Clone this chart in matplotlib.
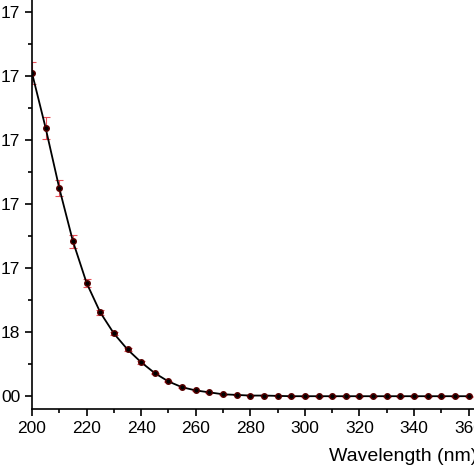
import matplotlib
matplotlib.use("Agg")
import matplotlib.pyplot as plt
import numpy as np

plt.rcParams['font.family'] = ['Liberation Sans', 'DejaVu Sans']

wavelength = list(range(200, 365, 5))
values = [5.05, 4.19, 3.25, 2.42, 1.77, 1.31, 0.98, 0.73, 0.53, 0.36, 0.23, 0.14, 0.09, 0.06, 0.03, 0.02,
          0.01, 0.01, 0.005, 0.0, 0.0, 0.0, 0.0, 0.0, 0.0, 0.0, 0.0, 0.0, 0.0, 0.0, 0.0, 0.0, 0.0]
errors = [0.17, 0.17, 0.13, 0.1, 0.06, 0.04, 0.03, 0.02, 0.02, 0.01, 0.01, 0.01, 0.01] + [0.005] * 20
ytick_labels = ["00", "18", "17", "17", "17", "17", "17"]

fig = plt.figure(figsize=(4.74, 4.74), dpi=100)
ax = fig.add_axes([32/474, 1-409/474, 1-32/474+0.01, 409/474])
ax.errorbar(wavelength, values, yerr=errors, fmt='none', ecolor='#e8505a', elinewidth=0.8, capsize=3, capthick=0.8)
ax.plot(wavelength, values, color='black', lw=1.3, marker='o', ms=4, mfc='black', mec='#5a0000')
ax.set_xlim(200, 363.7)
ax.set_ylim(-0.2, 6.19)
ax.set_xticks(range(200, 361, 20))
ax.set_xticks(range(200, 364, 10), minor=True)
ax.set_yticks(range(0, 7))
ax.set_yticklabels(ytick_labels)
ax.set_yticks(np.arange(0.5, 6.2, 1), minor=True)
ax.tick_params(labelsize=12.5, direction='out', length=5, width=1.2)
ax.tick_params(which='minor', length=3, width=1.2)
for s in ['top', 'right']:
    ax.spines[s].set_visible(False)
for s in ['left', 'bottom']:
    ax.spines[s].set_linewidth(1.2)
ax.set_xlabel("Wavelength (nm)", fontsize=14, labelpad=14)
ax.xaxis.set_label_coords(0.83, -0.095)
fig.savefig("out.png", dpi=100)
